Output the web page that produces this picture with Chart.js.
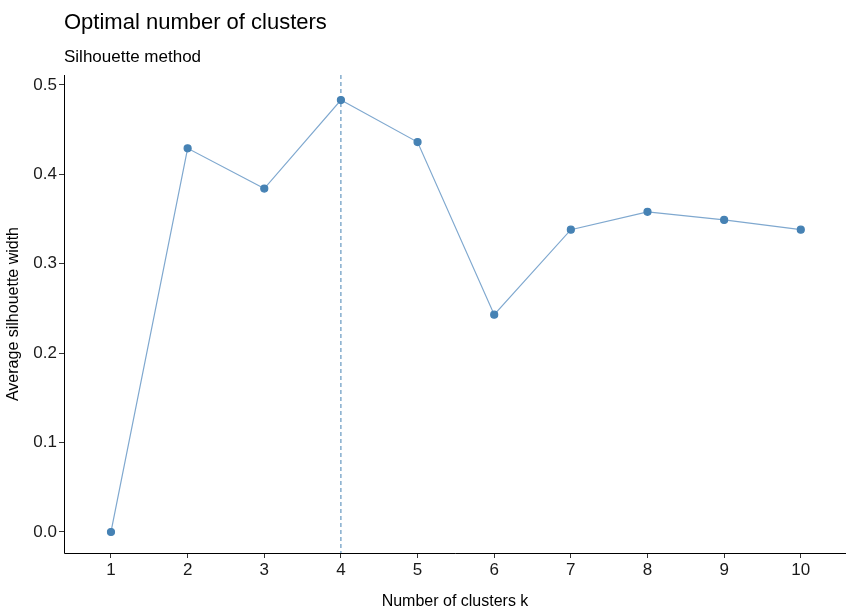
<!DOCTYPE html>
<html>
<head>
<script src="https://cdn.jsdelivr.net/npm/chart.js@4"></script>
<style>
body { margin: 0; background: #fff; }
#wrap { width: 867px; height: 615px; }
</style>
</head>
<body>
<div id="wrap"><canvas id="sil"></canvas></div>
<script>
var clusters = [1, 2, 3, 4, 5, 6, 7, 8, 9, 10];
var silWidth = [0.0, 0.429, 0.384, 0.483, 0.436, 0.243, 0.338, 0.358, 0.349, 0.338];
var yTicks = [0.0, 0.1, 0.2, 0.3, 0.4, 0.5];
var bestK = 4;

var pts = clusters.map(function (k, i) { return { x: k, y: silWidth[i] }; });

var extras = {
  id: "extras",
  afterDatasetsDraw: function (chart) {
    var c = chart.ctx, a = chart.chartArea;
    var x = chart.scales.x.getPixelForValue(bestK);
    c.save();
    c.strokeStyle = "#4682B4";
    c.lineWidth = 1;
    c.setLineDash([4, 3]);
    c.beginPath();
    c.moveTo(x, a.top);
    c.lineTo(x, a.bottom);
    c.stroke();
    c.setLineDash([]);
    c.strokeStyle = "#000";
    c.beginPath();
    c.moveTo(a.left + 0.5, a.top);
    c.lineTo(a.left + 0.5, a.bottom + 0.5);
    c.lineTo(a.right, a.bottom + 0.5);
    c.stroke();
    c.fillStyle = "#000";
    c.textBaseline = "middle";
    c.font = "22px 'Liberation Sans', Arial, sans-serif";
    c.fillText("Optimal number of clusters", 64, 23);
    c.font = "17px 'Liberation Sans', Arial, sans-serif";
    c.fillText("Silhouette method", 64, 57);
    c.restore();
  }
};

var tickGrid = { display: true, drawOnChartArea: false, drawTicks: true, tickLength: 5, tickColor: "#333" };

new Chart("sil", {
  type: "line",
  data: {
    datasets: [{
      data: pts,
      borderColor: "#7FA8CF",
      borderWidth: 1.2,
      pointBackgroundColor: "#4682B4",
      pointBorderColor: "#4682B4",
      pointRadius: 3.5,
      tension: 0
    }]
  },
  options: {
    responsive: true,
    maintainAspectRatio: false,
    animation: false,
    layout: { padding: { top: 75, right: 21, left: 0, bottom: 0 } },
    plugins: { legend: { display: false }, tooltip: { enabled: false } },
    scales: {
      x: {
        type: "linear",
        min: 0.387, max: 10.59,
        afterBuildTicks: function (s) { s.ticks = clusters.map(function (v) { return { value: v }; }); },
        grid: tickGrid,
        border: { display: false },
        ticks: { color: "#1a1a1a", font: { size: 17, family: "'Liberation Sans', Arial" }, padding: 2 },
        title: { display: true, text: "Number of clusters k", color: "#000", font: { size: 16, family: "'Liberation Sans', Arial" }, padding: { top: 0, bottom: 4 } },
        afterFit: function (s) { s.height = 62; }
      },
      y: {
        min: -0.0235, max: 0.511,
        afterBuildTicks: function (s) { s.ticks = yTicks.map(function (v) { return { value: v }; }); },
        grid: tickGrid,
        border: { display: false },
        ticks: { color: "#1a1a1a", font: { size: 17, family: "'Liberation Sans', Arial" }, padding: 2,
          callback: function (v) { return v.toFixed(1); } },
        title: { display: true, text: "Average silhouette width", color: "#000", font: { size: 16, family: "'Liberation Sans', Arial" }, padding: { bottom: 2 } },
        afterFit: function (s) { s.width = 64; }
      }
    }
  },
  plugins: [extras]
});
</script>
</body>
</html>
